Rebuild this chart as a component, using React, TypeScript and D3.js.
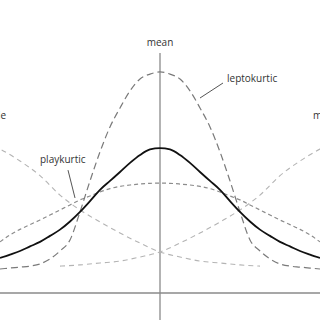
import React from "react";
import * as d3 from "d3";

// Shared x grid (standard deviations from the mean) for the three centred curves
const xs = [-4, -3.75, -3.5, -3.25, -3, -2.75, -2.5, -2.25, -2, -1.75, -1.5, -1.25, -1, -0.75, -0.5, -0.25, 0,
  0.25, 0.5, 0.75, 1, 1.25, 1.5, 1.75, 2, 2.25, 2.5, 2.75, 3, 3.25, 3.5, 3.75, 4];

// Mesokurtic (normal) density
const normalY = [0.146, 0.16, 0.175, 0.194, 0.213, 0.238, 0.264, 0.298, 0.338, 0.383, 0.43, 0.467, 0.504, 0.542, 0.575, 0.598, 0.604,
  0.598, 0.575, 0.542, 0.504, 0.467, 0.43, 0.383, 0.338, 0.298, 0.264, 0.238, 0.213, 0.194, 0.175, 0.16, 0.146];

// Leptokurtic density
const leptoY = [0.1, 0.104, 0.108, 0.112, 0.121, 0.142, 0.175, 0.221, 0.338, 0.467, 0.588, 0.692, 0.771, 0.842, 0.892, 0.912, 0.921,
  0.912, 0.892, 0.842, 0.771, 0.692, 0.588, 0.467, 0.338, 0.221, 0.175, 0.142, 0.121, 0.112, 0.108, 0.104, 0.1];

// Platykurtic density
const platyY = [0.213, 0.242, 0.265, 0.285, 0.304, 0.325, 0.346, 0.367, 0.388, 0.404, 0.421, 0.435, 0.444, 0.45, 0.454, 0.457, 0.458,
  0.457, 0.454, 0.45, 0.444, 0.435, 0.421, 0.404, 0.388, 0.367, 0.346, 0.325, 0.304, 0.285, 0.265, 0.242, 0.213];

// Skewed distribution with its mode on the left
const skewLeftX = [-5, -4.5, -4, -3.5, -3, -2.5, -2, -1.5, -1, -0.5, 0, 0.5, 1, 1.5, 2, 2.5];
const skewLeftY = [0.62, 0.64, 0.6, 0.55, 0.489, 0.408, 0.346, 0.296, 0.25, 0.208, 0.171, 0.15, 0.133, 0.125, 0.117, 0.112];

// Skewed distribution with its mode on the right
const skewRightX = [-2.5, -2, -1.5, -1, -0.5, 0, 0.5, 1, 1.5, 2, 2.5, 3, 3.5, 4, 4.5, 5];
const skewRightY = [0.112, 0.117, 0.125, 0.133, 0.15, 0.171, 0.208, 0.25, 0.296, 0.346, 0.408, 0.489, 0.55, 0.6, 0.64, 0.62];

const W = 320;
const H = 320;
const FONT = "'Open Sans', sans-serif";

export default function App() {
  const x = d3.scaleLinear().domain([-4, 4]).range([0, W]);
  const y = d3.scaleLinear().domain([0, 1]).range([293, 53]);

  const line = d3
    .line<[number, number]>()
    .x((d) => x(d[0]))
    .y((d) => y(d[1]))
    .curve(d3.curveMonotoneX);

  const pts = (xv: number[], yv: number[]) => xv.map((v, i) => [v, yv[i]] as [number, number]);

  return (
    <div style={{ position: "fixed", left: 0, top: 0 }}>
      <svg width={W} height={H} style={{ display: "block", background: "#fff" }}>
        {/* axes */}
        <line x1={0} x2={W} y1={y(0)} y2={y(0)} stroke="#8a8a8a" strokeWidth={1.5} />
        <line x1={x(0)} x2={x(0)} y1={y(1)} y2={H} stroke="#8a8a8a" strokeWidth={1.3} />

        {/* skewed curves */}
        <path d={line(pts(skewLeftX, skewLeftY)) ?? ""} fill="none" stroke="#b4b4b4" strokeWidth={1.1} strokeDasharray="5,4" />
        <path d={line(pts(skewRightX, skewRightY)) ?? ""} fill="none" stroke="#b4b4b4" strokeWidth={1.1} strokeDasharray="5,4" />

        {/* platykurtic */}
        <path d={line(pts(xs, platyY)) ?? ""} fill="none" stroke="#8c8c8c" strokeWidth={1.2} strokeDasharray="4,3" />

        {/* leptokurtic */}
        <path d={line(pts(xs, leptoY)) ?? ""} fill="none" stroke="#7a7a7a" strokeWidth={1.2} strokeDasharray="7,4" />

        {/* mesokurtic */}
        <path d={line(pts(xs, normalY)) ?? ""} fill="none" stroke="#111" strokeWidth={1.8} />

        {/* leader lines */}
        <line x1={x(1.575)} y1={y(0.875)} x2={x(1.0)} y2={y(0.8125)} stroke="#555" strokeWidth={1} />
        <line x1={x(-2.3)} y1={y(0.512)} x2={x(-2.125)} y2={y(0.396)} stroke="#555" strokeWidth={1} />

        {/* labels */}
        <g fontFamily={FONT} fontSize={10} fill="#333">
          <text x={x(0)} y={46} textAnchor="middle">mean</text>
          <text x={227} y={82}>leptokurtic</text>
          <text x={40} y={163}>playkurtic</text>
          <text x={6} y={119} textAnchor="end">mode</text>
          <text x={313} y={119}>mode</text>
        </g>
      </svg>
    </div>
  );
}
